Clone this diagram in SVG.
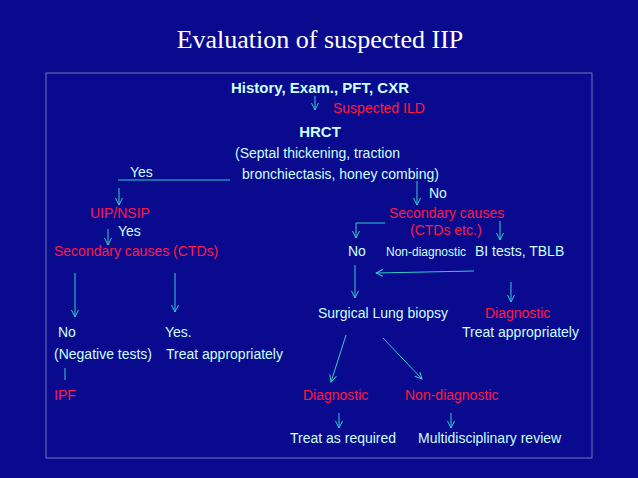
<svg xmlns="http://www.w3.org/2000/svg" width="638" height="478" viewBox="0 0 638 478">
<defs>
<marker id="ah" markerWidth="8" markerHeight="8" refX="7" refY="4" orient="auto" markerUnits="userSpaceOnUse"><path d="M0,0.5 L7,4 L0,7.5" fill="none" stroke="#33cccc" stroke-width="1"/></marker>
<style>
text{font-family:"Liberation Sans",Arial,sans-serif;font-size:14px;fill:#ccffff}
.r{fill:#ff1a40}
.b{font-weight:bold;font-size:15px}
.s{font-size:12px}
.c line,.c path{stroke:#33cccc;stroke-width:1;fill:none}
.a{marker-end:url(#ah)}
</style>
</defs>
<rect width="638" height="478" fill="#0a0a8e"/>
<rect x="46" y="73" width="546" height="385" fill="none" stroke="#6a7ab8" stroke-width="1"/>
<text x="320" y="48" text-anchor="middle" style="font-family:'Liberation Serif',serif;font-size:26px;fill:#ffffff">Evaluation of suspected IIP</text>
<g class="c">
<line class="a" x1="315" y1="96" x2="315" y2="110"/>
<line x1="118" y1="180" x2="230" y2="180"/>
<line class="a" x1="119" y1="188" x2="119" y2="205"/>
<line class="a" x1="108" y1="229" x2="108" y2="245"/>
<line class="a" x1="417" y1="181" x2="417" y2="205"/>
<path class="a" d="M385,223 L356,223 L356,238"/>
<line class="a" x1="500" y1="221" x2="500" y2="240"/>
<line class="a" x1="75" y1="273" x2="75" y2="317"/>
<line class="a" x1="175" y1="273" x2="175" y2="312"/>
<line class="a" x1="355" y1="265" x2="355" y2="298"/>
<line class="a" x1="474" y1="271" x2="376" y2="273"/>
<line class="a" x1="511" y1="282" x2="511" y2="302"/>
<line x1="65" y1="368" x2="65" y2="380"/>
<line class="a" x1="346" y1="335" x2="331" y2="382"/>
<line class="a" x1="383" y1="338" x2="422" y2="379"/>
<line class="a" x1="339" y1="413" x2="339" y2="428"/>
<line class="a" x1="451" y1="413" x2="451" y2="428"/>
</g>
<g id="n1"><text class="b" x="320" y="93" text-anchor="middle">History, Exam., PFT, CXR</text></g>
<g id="n2"><text class="r" x="333" y="113">Suspected ILD</text></g>
<g id="n3"><text class="b" x="320" y="137" text-anchor="middle">HRCT</text>
<text x="235" y="158">(Septal thickening, traction</text>
<text x="242" y="179">bronchiectasis, honey combing)</text></g>
<g id="n4"><text x="130" y="177">Yes</text></g>
<g id="n5"><text x="429" y="198">No</text></g>
<g id="n6"><text class="r" x="90" y="218">UIP/NSIP</text></g>
<g id="n7"><text class="r" x="389" y="218">Secondary causes</text><text class="r" x="410" y="235">(CTDs etc.)</text></g>
<g id="n8"><text x="118" y="236">Yes</text></g>
<g id="n9"><text class="r" x="54" y="256">Secondary causes (CTDs)</text></g>
<g id="n10"><text x="348" y="256">No</text></g>
<g id="n11"><text class="s" x="386" y="256">Non-diagnostic</text></g>
<g id="n12"><text x="475" y="256">BI tests, TBLB</text></g>
<g id="n13"><text x="318" y="318">Surgical Lung biopsy</text></g>
<g id="n14"><text class="r" x="485" y="318">Diagnostic</text></g>
<g id="n15"><text x="462" y="337">Treat appropriately</text></g>
<g id="n16"><text x="58" y="337">No</text><text x="54" y="359">(Negative tests)</text></g>
<g id="n17"><text x="165" y="337">Yes.</text><text x="166" y="359">Treat appropriately</text></g>
<g id="n18"><text class="r" x="54" y="400">IPF</text></g>
<g id="n19"><text class="r" x="303" y="400">Diagnostic</text></g>
<g id="n20"><text class="r" x="405" y="400">Non-diagnostic</text></g>
<g id="n21"><text x="290" y="443">Treat as required</text></g>
<g id="n22"><text x="418" y="443">Multidisciplinary review</text></g>
</svg>
